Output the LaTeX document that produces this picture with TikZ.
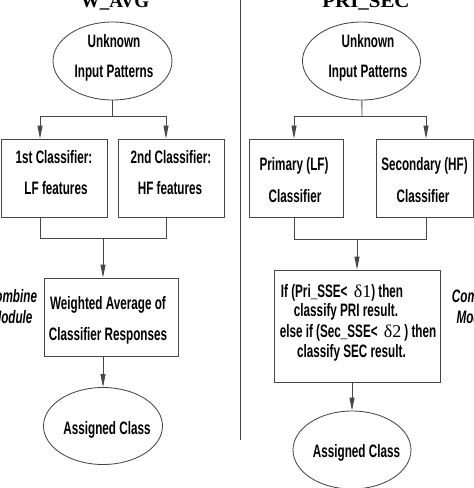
\documentclass[tikz,border=0pt]{standalone}
\usepackage{fontspec}
\newfontfamily\df[FakeStretch=0.65]{Liberation Sans}
\newfontfamily\tf{Liberation Serif}
\usetikzlibrary{shapes.geometric,arrows.meta}
\begin{document}
\begin{tikzpicture}[x=1pt,y=-1pt,
  ln/.style={draw=black!72, line width=0.85pt},
  arr/.style={ln,-{Triangle[length=13pt,width=5pt]}},
  txt/.style={font=\df\bfseries\fontsize{18}{22}\selectfont, anchor=base, inner sep=0pt},
  itx/.style={font=\df\bfseries\itshape\fontsize{18}{22}\selectfont, anchor=base, inner sep=0pt},
  ttl/.style={font=\tf\bfseries\fontsize{19}{22}\selectfont, anchor=base, inner sep=0pt},
  ell/.style={ln, ellipse, inner sep=0pt},
  box/.style={ln, rectangle, inner sep=0pt}
]
\useasboundingbox (0,0) rectangle (474,488);

% titles
\node[ttl] (t1) at (115,7) {W\_AVG};
\node[ttl, xscale=1.1] (t2) at (366,7) {PRI\_SEC};

% separator
\coordinate (s1) at (240,0);
\coordinate (s2) at (240,440);
\draw[ln] (s1) -- (s2);

% ---------- left column ----------
\node[ell, minimum width=119pt, minimum height=78pt] (e1) at (112.5,61) {};
\node[txt] (e1a) at (114,47) {Unknown};
\node[txt] (e1b) at (114,77) {Input Patterns};

\node[box, minimum width=106pt, minimum height=78pt] (b1) at (54,178) {};
\node[txt] (b1a) at (54,163) {1st Classifier:};
\node[txt] (b1b) at (56,194) {LF features};

\node[box, minimum width=106pt, minimum height=78pt] (b2) at (171,178) {};
\node[txt] (b2a) at (171,163) {2nd Classifier:};
\node[txt] (b2b) at (170,194) {HF features};

\node[box, minimum width=134pt, minimum height=78pt] (b3) at (111,317) {};
\node[txt] (b3a) at (108,309) {Weighted Average of};
\node[txt] (b3b) at (108,340) {Classifier Responses};

\node[ell, minimum width=119pt, minimum height=77pt] (e3) at (103,426) {};
\node[txt] (e3a) at (107,434) {Assigned Class};

\node[itx] (m1a) at (12,302) {Combine};
\node[itx] (m1b) at (12,323) {Module};

\coordinate (j1) at (112.5,116);
\coordinate (p1) at (40,116);
\coordinate (p2) at (166,116);
\draw[ln] (e1) -- (j1);
\draw[ln] (p1) -- (p2);
\draw[arr] (p1) -- (p1 |- b1.north);
\draw[arr] (p2) -- (p2 |- b2.north);

\coordinate (q1) at (40,238);
\coordinate (q2) at (166,238);
\coordinate (q3) at (103,238);
\draw[ln] (q1 |- b1.south) -- (q1) -- (q2) -- (q2 |- b2.south);
\draw[arr] (q3) -- (q3 |- b3.north);
\draw[arr] (q3 |- b3.south) -- (e3);

% ---------- right column ----------
\node[ell, minimum width=118pt, minimum height=78pt] (e2) at (361.5,61) {};
\node[txt] (e2a) at (368,47) {Unknown};
\node[txt] (e2b) at (368,77) {Input Patterns};

\node[box, minimum width=94pt, minimum height=78pt] (c1) at (296,178) {};
\node[txt] (c1a) at (294,170) {Primary (LF)};
\node[txt] (c1b) at (295,202) {Classifier};

\node[box, minimum width=97pt, minimum height=78pt] (c2) at (424.5,178) {};
\node[txt] (c2a) at (424.5,170) {Secondary (HF)};
\node[txt] (c2b) at (423,202) {Classifier};

\node[box, minimum width=166pt, minimum height=112pt] (b4) at (357,326) {};
\node[txt] (b4a) at (342,297) {If (Pri\_SSE<\, {\tf\mdseries δ1}) then};
\node[txt] (b4b) at (346,316) {classify PRI result.};
\node[txt] (b4c) at (358,337) {else if (Sec\_SSE<\, {\tf\mdseries δ2}\,) then};
\node[txt] (b4d) at (351.5,357) {classify SEC result.};

\node[ell, minimum width=118pt, minimum height=78pt] (e4) at (352,450) {};
\node[txt] (e4a) at (356.5,457) {Assigned Class};

\node[itx] (m2a) at (477,302) {Combine};
\node[itx] (m2b) at (477,323) {Module};

\coordinate (j2) at (362,116);
\coordinate (r1) at (294,116);
\coordinate (r2) at (426,116);
\draw[ln] (e2) -- (j2);
\draw[ln] (r1) -- (r2);
\draw[arr] (r1) -- (r1 |- c1.north);
\draw[arr] (r2) -- (r2 |- c2.north);

\coordinate (u1) at (294,239);
\coordinate (u2) at (426,239);
\coordinate (u3) at (357,239);
\draw[ln] (u1 |- c1.south) -- (u1) -- (u2) -- (u2 |- c2.south);
\draw[arr] (u3) -- (u3 |- b4.north);
\coordinate (v1) at (352,0);
\draw[arr] (v1 |- b4.south) -- (e4);
\end{tikzpicture}
\end{document}
